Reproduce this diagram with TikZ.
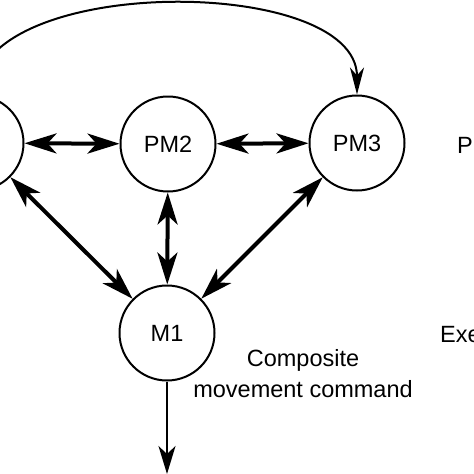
\documentclass[tikz,border=0pt]{standalone}
\usepackage{fontspec}
\setmainfont{Liberation Sans}
\usetikzlibrary{arrows.meta}
\begin{document}
\begin{tikzpicture}[x=1pt,y=-1pt,
  font=\fontsize{23.5}{31.5}\selectfont,
  state/.style={circle,draw,line width=2pt,minimum size=95pt,inner sep=0pt},
  dbl/.style={line width=4pt,{Stealth[length=32pt,width=20pt,inset=9pt]}-{Stealth[length=32pt,width=20pt,inset=9pt]}},
  curvearrow/.style={line width=2pt,-{Stealth[length=27pt,width=14pt,inset=8pt]}},
  outarrow/.style={line width=2.2pt,-{Stealth[length=28pt,width=17pt,inset=8pt]}},
  lbl/.style={anchor=base west,inner sep=0pt}]
\useasboundingbox (0,0) rectangle (474,474);
\node[state] (pm1) at (-24,143) {};
\node[state] (pm2) at (168,144) {PM2};
\node[state] (pm3) at (357,143) {PM3};
\node[state] (m1) at (167,333) {M1};
\draw[dbl] (pm1) -- (pm2);
\draw[dbl] (pm2) -- (pm3);
\draw[dbl] (pm1) -- (m1);
\draw[dbl] (pm2) -- (m1);
\draw[dbl] (pm3) -- (m1);
\draw[curvearrow] (pm1.north) .. controls (-24,-26) and (357,-26) .. (pm3.north);
\coordinate (out) at (167,474);
\draw[outarrow] (m1) -- (out);
\node[align=center,inner sep=0pt,anchor=base] (cmd) at (303,397.5) {Composite\\movement command};
\node[lbl] (p) at (457,153) {P};
\node[lbl] (exe) at (440,342) {Exe};
\end{tikzpicture}
\end{document}
